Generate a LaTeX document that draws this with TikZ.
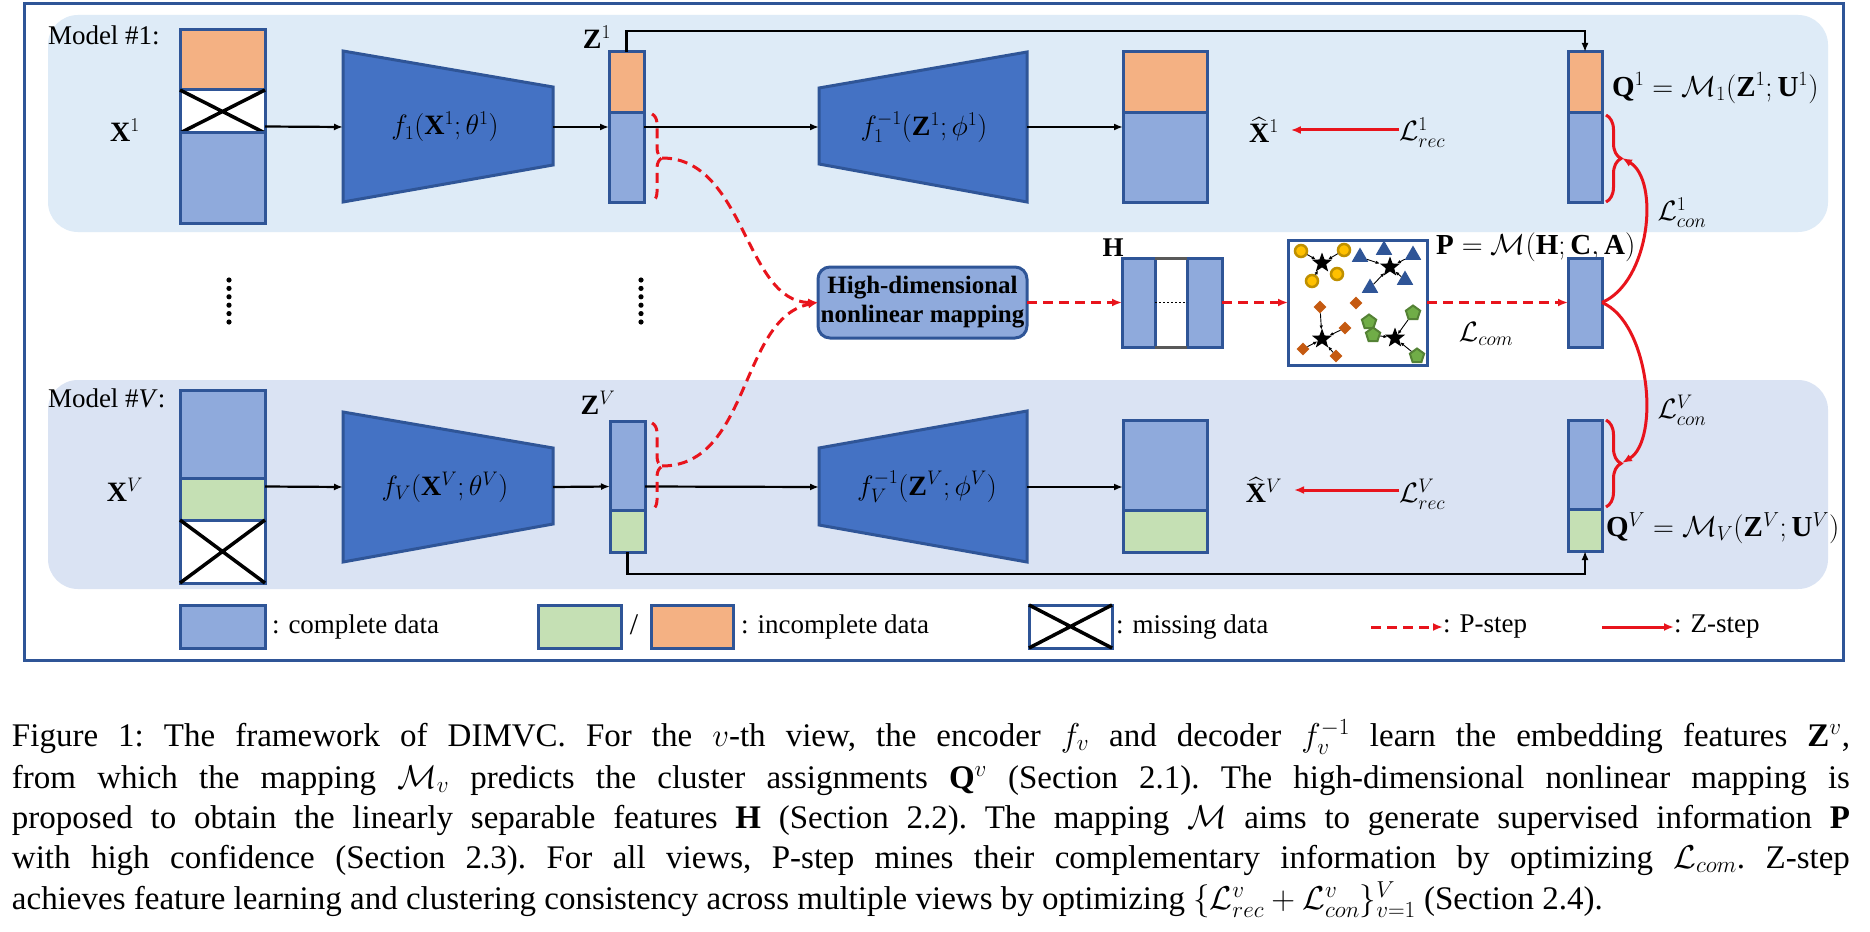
\RequirePackage{fix-cm}
\documentclass[tikz,border=0pt]{standalone}
\usepackage{amsmath}
\usepackage{fontspec}
\setmainfont{Liberation Serif}
\usetikzlibrary{arrows.meta,decorations.pathreplacing,shapes.geometric,calc}
\definecolor{bord}{HTML}{2F5597}
\definecolor{cblue}{HTML}{8FAADC}
\definecolor{corange}{HTML}{F4B183}
\definecolor{cgreen}{HTML}{C5E0B4}
\definecolor{ctrap}{HTML}{4472C4}
\definecolor{panA}{HTML}{DEEBF7}
\definecolor{panB}{HTML}{DAE3F3}
\definecolor{cred}{HTML}{E8141C}
\definecolor{cyel}{HTML}{FFC000}
\definecolor{cyelb}{HTML}{BF9000}
\definecolor{ctri}{HTML}{2F5597}
\definecolor{cdia}{HTML}{C55A11}
\definecolor{cpent}{HTML}{70AD47}
\definecolor{cpentb}{HTML}{548235}
\definecolor{hgray}{HTML}{595959}
\newcommand\dpart[6]{\node[part, fill=#2, minimum width=#5pt, minimum height=#6pt] (#1) at (#3,#4) {};}
\newcommand\dcross[5]{\node[part, fill=white, minimum width=#4pt, minimum height=#5pt] (#1) at (#2,#3) {};
  \draw[crossln] (#1.north west) -- (#1.south east) (#1.north east) -- (#1.south west);}
\newcommand\dcont[5]{\node[inner sep=0pt, outer sep=0pt, minimum width=#4pt, minimum height=#5pt] (#1) at (#2,#3) {};}
\tikzset{
  part/.style={draw=bord, line width=3pt, inner sep=0pt, outer sep=0pt, anchor=north west},
  crossln/.style={black, line width=3.5pt},
  trap/.style={fill=ctrap, draw=bord, line width=3pt, line join=miter},
  conn/.style={black, line width=2.2pt, -{Latex[length=9pt,width=7pt]}},
  reddash/.style={cred, line width=3pt, dash pattern=on 10pt off 6pt},
  redsolid/.style={cred, line width=3pt},
  rtip/.style={-{Latex[length=10pt,width=8pt]}},
  lab/.style={font=\fontsize{28}{32}\selectfont, inner sep=0pt, outer sep=0pt},
  labq/.style={font=\fontsize{29}{33}\selectfont, inner sep=0pt, outer sep=0pt},
  txt/.style={font=\fontsize{27}{31}\selectfont, inner sep=0pt, outer sep=0pt},
  capt/.style={font=\fontsize{33}{40}\selectfont\frenchspacing, inner sep=0pt, outer sep=0pt, anchor=base west},
  ycirc/.style={circle, fill=cyel, draw=cyelb, line width=2.5pt, minimum size=12pt, inner sep=0pt},
  btri/.style={regular polygon, regular polygon sides=3, fill=ctri, minimum size=19pt, inner sep=0pt},
  odia/.style={diamond, fill=cdia, minimum size=13pt, inner sep=0pt},
  gpent/.style={regular polygon, regular polygon sides=5, fill=cpent, draw=cpentb, line width=2pt, minimum size=15pt, inner sep=0pt},
  bstar/.style={star, star points=5, star point ratio=2.4, fill=black, minimum size=21pt, inner sep=0pt},
  thin/.style={black, line width=0.9pt, -{Latex[length=4pt,width=3.5pt]}},
}
\begin{document}
\begin{tikzpicture}[x=1pt, y=-1pt]
\fill[white] (0,0) rectangle (1870,931);
\useasboundingbox (0,0) rectangle (1870,931);
% frame and panels
\draw[bord, line width=3pt] (24,4) rectangle (1843,660);
\fill[panA, rounded corners=30pt] (48,15) rectangle (1828,232);
\fill[panB, rounded corners=30pt] (48,380) rectangle (1828,589);

% ---------- view 1 ----------
\node[txt, anchor=west] (m1) at (48,35) {Model \#1:};
\dpart{X1a}{corange}{180}{30}{85}{60}
\dcross{X1b}{180}{90}{85}{43}
\dpart{X1c}{cblue}{180}{133}{85}{90}
\dcont{X1}{222.5}{126.5}{85}{193}
\node[lab] (X1l) at (125,130) {$\mathbf{X}^1$};

\draw[trap] (343,51) -- (553,87) -- (553,165) -- (343,202) -- cycle;
\coordinate (e1w) at (343,127); \coordinate (e1e) at (553,127);
\node[lab] (f1) at (445,127) {$f_1(\mathbf{X}^1;\theta^1)$};

\dpart{Z1a}{corange}{609}{52}{35}{61}
\dpart{Z1b}{cblue}{609}{113}{35}{89}
\dcont{Z1}{626.5}{127}{35}{150}
\node[lab] (Z1l) at (597,37) {$\mathbf{Z}^1$};

\draw[trap] (819,88) -- (1027,52) -- (1027,202) -- (819,164) -- cycle;
\coordinate (d1w) at (819,127); \coordinate (d1e) at (1027,127);
\node[lab] (g1) at (924,127) {$f_1^{-1}(\mathbf{Z}^1;\phi^1)$};

\dpart{R1a}{corange}{1123}{52}{84}{61}
\dpart{R1b}{cblue}{1123}{113}{84}{89}
\dcont{R1}{1165}{127}{84}{150}

\node[lab] (Xh1l) at (1264,130) {$\widehat{\mathbf{X}}^1$};
\node[lab, anchor=west] (Lr1) at (1399,133) {$\mathcal{L}^1_{rec}$};

\dpart{Q1a}{corange}{1568}{52}{34}{61}
\dpart{Q1b}{cblue}{1568}{113}{34}{89}
\dcont{Q1}{1585}{127}{34}{150}
\node[labq, anchor=west] (Q1l) at (1612,88) {$\mathbf{Q}^1=\mathcal{M}_1(\mathbf{Z}^1;\mathbf{U}^1)$};

\draw[conn] (X1.east) -- (e1w);
\draw[conn] (e1e) -- (Z1.west);
\draw[conn] (Z1.east) -- (d1w);
\draw[conn] (d1e) -- (R1.west);
\coordinate (topy) at (0,31);
\draw[conn] (Z1.north) -- (Z1.north |- topy) -| (Q1.north);
\draw[redsolid, rtip, shorten >=12pt] (Xh1l.east -| Lr1.west) -- (Xh1l.east);

% ---------- view V ----------
\node[txt, anchor=west] (mV) at (48,398) {Model \#\textit{V}:};
\dpart{XVa}{cblue}{180}{390}{85}{88}
\dpart{XVb}{cgreen}{180}{478}{85}{42}
\dcross{XVc}{180}{520}{85}{63}
\dcont{XV}{222.5}{486.5}{85}{193}
\node[lab] (XVl) at (125,490) {$\mathbf{X}^V$};

\draw[trap] (343,412) -- (553,448) -- (553,524) -- (343,562) -- cycle;
\coordinate (eVw) at (343,487); \coordinate (eVe) at (553,487);
\node[lab] (fV) at (445,487) {$f_V(\mathbf{X}^V;\theta^V)$};

\dpart{ZVa}{cblue}{610}{421}{35}{89}
\dpart{ZVb}{cgreen}{610}{510}{35}{42}
\dcont{ZV}{627.5}{486.5}{35}{131}
\node[lab] (ZVl) at (598,403) {$\mathbf{Z}^V$};

\draw[trap] (819,448) -- (1027,411) -- (1027,562) -- (819,525) -- cycle;
\coordinate (dVw) at (819,487); \coordinate (dVe) at (1027,487);
\node[lab] (gV) at (927,487) {$f_V^{-1}(\mathbf{Z}^V;\phi^V)$};

\dpart{RVa}{cblue}{1123}{420}{84}{90}
\dpart{RVb}{cgreen}{1123}{510}{84}{42}
\dcont{RV}{1165}{487}{84}{132}

\node[lab] (XhVl) at (1264,490) {$\widehat{\mathbf{X}}^V$};
\node[lab, anchor=west] (LrV) at (1399,494) {$\mathcal{L}^V_{rec}$};

\dpart{QVa}{cblue}{1568}{420}{34}{89}
\dpart{QVb}{cgreen}{1568}{509}{34}{42}
\dcont{QV}{1585}{485.5}{34}{131}
\node[labq, anchor=west] (QVl) at (1606,528) {$\mathbf{Q}^V=\mathcal{M}_V(\mathbf{Z}^V;\mathbf{U}^V)$};

\draw[conn] (XV.east) -- (eVw);
\draw[conn] (eVe) -- (ZV.west);
\draw[conn] (ZV.east) -- (dVw);
\draw[conn] (dVe) -- (RV.west);
\coordinate (boty) at (0,574);
\draw[conn] (ZV.south) -- (ZV.south |- boty) -| (QV.south);
\draw[redsolid, rtip, shorten >=12pt] (XhVl.east -| LrV.west) -- (XhVl.east);

% ---------- dots ----------
\foreach \i in {0,...,5} {
  \fill (229,280+8.4*\i) circle (2.6pt);
  \fill (641,280+8.4*\i) circle (2.6pt);
}

% ---------- middle ----------
\node[draw=bord, fill=cblue, line width=3pt, rounded corners=12pt, minimum width=209pt, minimum height=71pt,
      inner sep=0pt, outer sep=0pt, align=center, font=\fontsize{25}{29}\selectfont\bfseries] (HD) at (922.5,302.5)
      {High-dimensional\\nonlinear mapping};

\dcont{H}{1172}{302.5}{100}{89}
\node[draw=bord, fill=cblue, line width=3pt, minimum width=33pt, minimum height=89pt, inner sep=0pt, outer sep=0pt] (H1) at (1138.5,302.5) {};
\node[draw=bord, fill=cblue, line width=3pt, minimum width=35pt, minimum height=89pt, inner sep=0pt, outer sep=0pt] (H2) at (1204.5,302.5) {};
\draw[hgray, line width=3pt] (H1.north east) -- (H2.north west);
\draw[hgray, line width=3pt] (H1.south east) -- (H2.south west);
\draw[black, line width=1.6pt, dash pattern=on 2pt off 2pt] (H1.east) -- (H2.west);
\node[font=\fontsize{27}{31}\selectfont\bfseries, inner sep=0pt] (Hl) at (1113,248) {H};

\node[draw=bord, fill=white, line width=3pt, minimum width=139pt, minimum height=125pt, inner sep=0pt, outer sep=0pt] (CL) at (1357.5,302.5) {};
% cluster contents
\node[ycirc] (c1) at (1301,251) {};
\node[ycirc] (c2) at (1344,250) {};
\node[ycirc] (c3) at (1312,281) {};
\node[ycirc] (c4) at (1337,274) {};
\node[bstar] (s1) at (1322,263) {};
\node[btri] (t1) at (1360,257) {};
\node[btri] (t2) at (1384,250) {};
\node[btri] (t3) at (1413,255) {};
\node[btri] (t4) at (1370,288) {};
\node[btri] (t5) at (1405,280) {};
\node[bstar] (s2) at (1390,267) {};
\node[odia] (o1) at (1320,307) {};
\node[odia] (o2) at (1356,303) {};
\node[odia] (o3) at (1345,328) {};
\node[odia] (o4) at (1303,349) {};
\node[odia] (o5) at (1336,356) {};
\node[bstar] (s3) at (1322,339) {};
\node[gpent] (p1) at (1413,313) {};
\node[gpent] (p2) at (1369,322) {};
\node[gpent] (p3) at (1373,335) {};
\node[gpent] (p4) at (1417,356) {};
\node[bstar] (s4) at (1395,338) {};
\foreach \a/\b in {c1/s1,c2/s1,c3/s1,t1/s2,t3/s2,t4/s2,t5/s2,o1/s3,o3/s3,o4/s3,o5/s3,p1/s4,p3/s4,p4/s4}
  \draw[thin] (\a) -- (\b);

\node[labq, anchor=west] (Pl) at (1436,247) {$\mathbf{P}=\mathcal{M}(\mathbf{H};\mathbf{C},\mathbf{A})$};
\node[draw=bord, fill=cblue, line width=3pt, minimum width=34pt, minimum height=89pt, inner sep=0pt, outer sep=0pt] (P) at (1585,302.5) {};
\node[lab] (Lcom) at (1486,334) {$\mathcal{L}_{com}$};

% P-step (dashed)
\draw[reddash, decorate, decoration={brace, amplitude=10pt}] (652,114) -- (652,202);
\draw[reddash, decorate, decoration={brace, amplitude=10pt}] (652,423) -- (652,510);
\coordinate (bz1) at (662,158);
\coordinate (bzV) at (662,466);
\draw[reddash, rtip] (bz1) .. controls (745,158) and (745,302) .. (HD.west);
\draw[reddash, rtip] (bzV) .. controls (750,466) and (740,318) .. (HD.west);
\draw[reddash, rtip] (HD.east) -- (H.west);
\draw[reddash, rtip] (H.east) -- (CL.west |- H.east);
\draw[reddash, rtip] (CL.east |- P.west) -- (P.west);

% Z-step (solid)
\draw[redsolid, decorate, decoration={brace, amplitude=15pt}] (1606,115) -- (1606,202);
\draw[redsolid, decorate, decoration={brace, amplitude=15pt}] (1606,420) -- (1606,507);
\coordinate (bq1) at (1622,158);
\coordinate (bqV) at (1622,463);
\draw[redsolid, rtip] (P.east) .. controls (1650,282) and (1660,180) .. (bq1);
\draw[redsolid, rtip] (P.east) .. controls (1650,323) and (1660,440) .. (bqV);
\node[lab] (Lc1) at (1682,213) {$\mathcal{L}^1_{con}$};
\node[lab] (LcV) at (1682,410) {$\mathcal{L}^V_{con}$};

% ---------- legend ----------
\dpart{Lg1}{cblue}{180}{605}{85}{43}
\node[txt, anchor=west] (Lt1) at (272,627) {: complete data};
\dpart{Lg2}{cgreen}{538}{605}{83}{43}
\node[font=\fontsize{30}{34}\selectfont, inner sep=0pt] (sl) at (634,625) {/};
\dpart{Lg3}{corange}{651}{605}{82}{43}
\node[txt, anchor=west] (Lt2) at (741,627) {: incomplete data};
\dcross{Lg4}{1029}{605}{83}{43}
\node[txt, anchor=west] (Lt3) at (1116,627) {: missing data};
\coordinate (lpa) at (1371,627); \coordinate (lpb) at (1443,627);
\draw[reddash, rtip] (lpa) -- (lpb);
\node[txt, anchor=west] (Lt4) at (lpb) {: P-step};
\coordinate (lza) at (1602,627); \coordinate (lzb) at (1674,627);
\draw[redsolid, rtip] (lza) -- (lzb);
\node[txt, anchor=west] (Lt5) at (lzb) {: Z-step};

% ---------- caption ----------
\node[capt] (cap1) at (12,746) {\makebox[1838pt][s]{Figure 1: The framework of DIMVC. For the $v$-th view, the encoder $f_v$ and decoder $f_v^{-1}$ learn the embedding features $\mathbf{Z}^v$,}};
\node[capt] (cap2) at (12,788) {\makebox[1838pt][s]{from which the mapping $\mathcal{M}_v$ predicts the cluster assignments $\mathbf{Q}^v$ (Section 2.1). The high-dimensional nonlinear mapping is}};
\node[capt] (cap3) at (12,828) {\makebox[1838pt][s]{proposed to obtain the linearly separable features $\mathbf{H}$ (Section 2.2). The mapping $\mathcal{M}$ aims to generate supervised information $\mathbf{P}$}};
\node[capt] (cap4) at (12,868) {\makebox[1838pt][s]{with high confidence (Section 2.3). For all views, P-step mines their complementary information by optimizing $\mathcal{L}_{com}$. Z-step}};
\node[capt] (cap5) at (12,909) {achieves feature learning and clustering consistency across multiple views by optimizing $\{\mathcal{L}^v_{rec}+\mathcal{L}^v_{con}\}_{v=1}^V$ (Section 2.4).};
\end{tikzpicture}
\end{document}
